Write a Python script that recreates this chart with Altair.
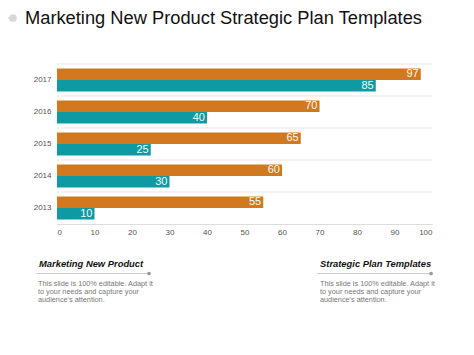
import altair as alt
import pandas as pd

years = ["2017", "2016", "2015", "2014", "2013"]
strategic = [97, 70, 65, 60, 55]
marketing = [85, 40, 25, 30, 10]
series_names = ["Strategic Plan Templates", "Marketing New Product"]
series_colors = ["#D0791F", "#0E9AA2"]
x_ticks = list(range(0, 101, 10))

title_text = "Marketing New Product Strategic Plan Templates"
left_head = "Marketing New Product"
right_head = "Strategic Plan Templates"
body = "This slide is 100% editable.  Adapt it\nto your needs and capture your\naudience's attention."

rows = []
for y, s, m in zip(years, strategic, marketing):
    rows.append({"year": y, "series": series_names[0], "value": s})
    rows.append({"year": y, "series": series_names[1], "value": m})
df = pd.DataFrame(rows)

W, H = 375, 160
FONT = "Liberation Sans"

yscale = alt.Scale(paddingInner=0.28, paddingOuter=0.14)
yaxis = alt.Axis(title=None, domain=False, ticks=False, grid=False,
                 labelFontSize=8, labelColor="#555", labelPadding=6,
                 labelFont=FONT)
xaxis = alt.Axis(title=None, values=x_ticks, grid=False, ticks=False,
                 domainColor="#dddddd", labelFontSize=8, labelColor="#555",
                 labelPadding=4, labelFont=FONT, labelOverlap=False)
xscale = alt.Scale(domain=[0, 100], nice=False)

yenc = alt.Y("year:N", sort=years, scale=yscale, axis=yaxis)
yoff = alt.YOffset("series:N", sort=series_names)
xenc = alt.X("value:Q", scale=xscale, axis=xaxis)
color = alt.Color("series:N", scale=alt.Scale(domain=series_names, range=series_colors),
                  legend=None)

base = alt.Chart(df)

grid = alt.Chart(pd.DataFrame({"year": years})).mark_rule(
    color="#e6e6e6", strokeWidth=1, yOffset=-4.5
).encode(
    y=alt.Y("year:N", sort=years, bandPosition=0, scale=yscale, axis=yaxis),
    x=alt.value(0), x2=alt.value(W),
)

bars = base.mark_bar().encode(y=yenc, yOffset=yoff, x=xenc, color=color)
labels = base.mark_text(align="right", baseline="middle", dx=-2, color="#f4fbfb",
                        fontSize=11, font=FONT).encode(
    y=yenc, yOffset=yoff, x=xenc, text="value:Q")

def txt(text, x, y, **kw):
    return alt.Chart(pd.DataFrame({"t": [0]})).mark_text(
        align="left", baseline="alphabetic", font=FONT, **kw
    ).encode(x=alt.value(x), y=alt.value(y), text=alt.value(text))

def rule(x1, x2, y, color="#cccccc", sw=1):
    return alt.Chart(pd.DataFrame({"t": [0]})).mark_rule(color=color, strokeWidth=sw).encode(
        x=alt.value(x1), x2=alt.value(x2), y=alt.value(y))

def dot(x, y, size, color):
    return alt.Chart(pd.DataFrame({"t": [0]})).mark_point(
        filled=True, color=color, size=size, opacity=1, shape="circle").encode(
        x=alt.value(x), y=alt.value(y))

deco = [
    txt(title_text, -32, -40, fontSize=18.3, color="#111111"),
    rule(-57, -47, -46, color="#d5d5d5", sw=1.5),
    dot(-44, -46, 60, "#d8d8d8"),
    txt(left_head, -18, 202.7, fontSize=9.4, fontWeight="bold", fontStyle="italic", color="#111111"),
    rule(-21, 92, 209.5, color="#cccccc", sw=1),
    dot(92, 209.5, 14, "#999999"),
    txt(body, -19, 221.7, fontSize=7.3, color="#777777", lineHeight=8.3, lineBreak="\n"),
    txt(right_head, 263, 202.7, fontSize=9.4, fontWeight="bold", fontStyle="italic", color="#111111"),
    rule(260, 374, 209.5, color="#cccccc", sw=1),
    dot(374, 209.5, 14, "#999999"),
    txt(body, 263, 221.7, fontSize=7.3, color="#777777", lineHeight=8.3, lineBreak="\n"),
]

chart = alt.layer(grid, bars, labels, *deco).properties(
    width=W, height=H,
    autosize=alt.AutoSizeParams(type="none"),
    padding={"left": 49, "top": 56, "right": 34, "bottom": 123},
).configure(background="white").configure_view(stroke=None)

chart.save("out.html", embed_options={"renderer": "svg", "actions": False})
